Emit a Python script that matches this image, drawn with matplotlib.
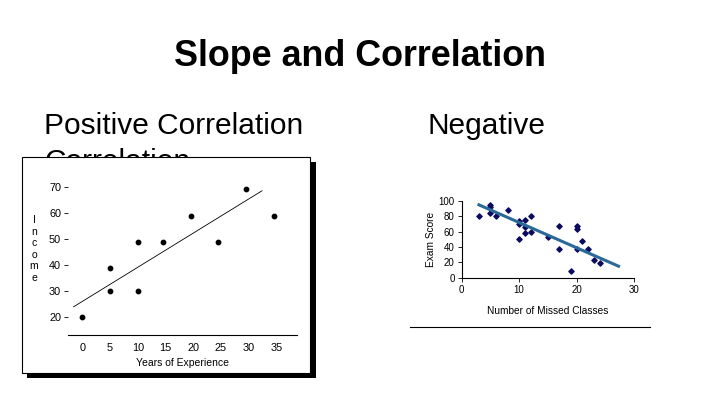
import matplotlib.pyplot as plt
from matplotlib.patches import Rectangle
from matplotlib.lines import Line2D

plt.rcParams['font.family'] = ['Liberation Sans', 'DejaVu Sans']

# Left chart: income vs years of experience
years = [0, 5, 5, 10, 10, 14.5, 19.5, 24.5, 29.5, 34.5]
income = [20, 30, 39, 30, 49, 49, 59, 49, 69, 59]
pos_line_x = [-1.6, 32.4]
pos_line_y = [24, 68.5]
pos_xticks = [0, 5, 10, 15, 20, 25, 30, 35]
pos_yticks = [20, 30, 40, 50, 60, 70]

# Right chart: exam score vs missed classes
missed = [3, 5, 5, 5, 6, 8, 10, 10, 10, 11, 11, 11, 12, 12, 15, 17, 17,
          19, 20, 20, 20, 21, 22, 23, 24]
score = [80, 95, 92, 84, 80, 88, 74, 70, 50, 75, 66, 58, 81, 60, 53, 67, 38,
         9, 68, 63, 37, 48, 37, 23, 19]
neg_line_x = [3, 27.3]
neg_line_y = [95, 15]
neg_xticks = [0, 10, 20, 30]
neg_yticks = [0, 20, 40, 60, 80, 100]

W, H = 720, 405
fig = plt.figure(figsize=(7.2, 4.05), dpi=100)


def fx(px):
    return px / W


def fy(py):
    return (H - py) / H


fig.text(0.5, fy(57), "Slope and Correlation", ha='center', va='center',
         fontsize=25.8, fontweight='bold')
fig.text(fx(44), fy(134), "Positive Correlation", ha='left', va='baseline',
         fontsize=21.5)
fig.text(fx(44), fy(170), "Correlation", ha='left', va='baseline',
         fontsize=21.5)
fig.text(fx(428), fy(134), "Negative", ha='left', va='baseline',
         fontsize=21.5)

# picture frame with shadow for the left chart
fig.patches.append(Rectangle((fx(27), fy(378)), fx(289), (373 - 157) / H,
                             transform=fig.transFigure, facecolor='black',
                             edgecolor='none', zorder=5))
fig.patches.append(Rectangle((fx(22), fy(373)), fx(288), (373 - 157) / H,
                             transform=fig.transFigure, facecolor='white',
                             edgecolor='black', linewidth=0.8, zorder=6))

ax1 = fig.add_axes([fx(68), fy(335), fx(229), 156 / H])
ax1.set_zorder(10)
ax1.patch.set_alpha(0)
ax1.scatter(years, income, s=10, color='black', zorder=3)
ax1.plot(pos_line_x, pos_line_y, color='black', linewidth=0.6)
ax1.set_xlim(-2.6, 38.7)
ax1.set_ylim(13.2, 73)
ax1.set_xticks(pos_xticks)
ax1.set_yticks(pos_yticks)
for s in ['top', 'right', 'left']:
    ax1.spines[s].set_visible(False)
ax1.spines['bottom'].set_linewidth(0.8)
ax1.tick_params(axis='x', length=0, pad=6, labelsize=7.8)
ax1.tick_params(axis='y', length=3, width=0.6, pad=2, labelsize=7.8)
ax1.set_xlabel("Years of Experience", fontsize=7.5, labelpad=3)
fig.text(fx(34), fy(249), "I\nn\nc\no\nm\ne", ha='center', va='center',
         fontsize=7.5, linespacing=1.2, zorder=11)

# right chart
ax2 = fig.add_axes([fx(461.7), fy(277.7), 172.3 / W, 76.7 / H])
ax2.scatter(missed, score, marker='D', s=7, color='#0b0b5e', zorder=3)
ax2.plot(neg_line_x, neg_line_y, color='#2b6a98', linewidth=2.2, zorder=4)
ax2.set_xlim(0, 30)
ax2.set_ylim(0, 100)
ax2.set_xticks(neg_xticks)
ax2.set_yticks(neg_yticks)
ax2.spines['top'].set_visible(False)
ax2.spines['right'].set_visible(False)
for s in ['left', 'bottom']:
    ax2.spines[s].set_linewidth(0.8)
ax2.tick_params(length=3, width=0.6, pad=2, labelsize=7)
ax2.set_xlabel("Number of Missed Classes", fontsize=7.3, labelpad=8)
ax2.set_ylabel("Exam Score", fontsize=7.3, labelpad=2)

fig.lines.append(Line2D([fx(410), fx(650)], [fy(327), fy(327)],
                        transform=fig.transFigure, color='black',
                        linewidth=0.8))

fig.savefig("out.png", dpi=100)
plt.close(fig)
